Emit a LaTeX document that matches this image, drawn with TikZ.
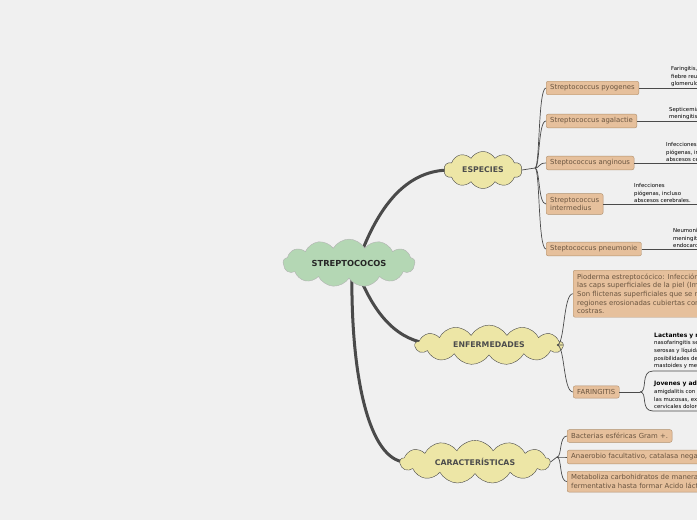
\documentclass[tikz,border=0pt]{standalone}
\usepackage{fontspec}
\setmainfont{DejaVu Sans}
\usetikzlibrary{shapes.symbols}
\definecolor{bg}{HTML}{F0F0F0}
\definecolor{boxf}{HTML}{E6C09C}
\definecolor{boxd}{HTML}{B0906E}
\definecolor{boxt}{HTML}{6A5540}
\definecolor{cloudy}{HTML}{EDE6A6}
\definecolor{lin}{HTML}{4A4A4A}
\tikzset{
 x=1pt,y=-1pt,
 bx/.style={draw=boxd,fill=boxf,rounded corners=2pt,font=\fontsize{6.9}{8.6}\selectfont,text=boxt,inner xsep=4pt,inner ysep=3.5pt,anchor=west,align=left},
 note/.style={font=\fontsize{5.4}{7.6}\selectfont,text=black,anchor=south west,align=left,inner sep=1pt},
 cl/.style={cloud,cloud puffs=13,cloud puff arc=120,draw=lin,fill=cloudy,font=\bfseries\fontsize{7.8}{9}\selectfont,text=black!70,inner sep=0pt},
 br/.style={draw=lin,line width=0.7pt},
 big/.style={draw=lin,line width=3pt},
}
\begin{document}
\begin{tikzpicture}
\clip (0,0) rectangle (697,520);
\fill[bg] (0,0) rectangle (697,520);
% connectors from root
\draw[big] (358,262) .. controls (380,200) and (410,170) .. (450,170);
\draw[big] (355,265) .. controls (375,320) and (400,340) .. (430,344);
\draw[big] (352,265) .. controls (350,380) and (370,460) .. (405,462);
% clouds
\node[cloud,cloud puffs=13,cloud puff arc=120,aspect=3.1,draw=gray!60,fill=green!30!gray!45,minimum width=132pt,inner sep=0pt,font=\bfseries\fontsize{8.3}{10}\selectfont,text=black!85] (root) at (349,263) {STREPTOCOCOS};
\node[cl,cloud puffs=10,aspect=2.1,minimum width=78pt] (esp) at (483,170) {ESPECIES};
\node[cl,aspect=3.8,minimum width=148pt] (enf) at (489,345) {ENFERMEDADES};
\node[cl,aspect=4,minimum width=150pt] (car) at (475,462) {CARACTERÍSTICAS};
% especies
\coordinate (ej) at (535,168);
\node[bx] (s1) at (546,88) {Streptococcus pyogenes};
\node[bx] (s2) at (546,121) {Streptococcus agalactie};
\node[bx] (s3) at (546,163) {Steptococcus anginous};
\node[bx] (s4) at (546,204) {Streptococcus\\intermedius};
\node[bx] (s5) at (546,249) {Steptococcus pneumonie};
\coordinate (redge) at (697,0);
\draw[br] (esp.east) -- (ej);
\foreach \s in {s1,s2,s3,s4,s5}{\draw[br] (ej) .. controls +(5,0) and +(-8,0) .. (\s.west);}
\foreach \s/\x/\t in {s1/670/{Faringitis, escarlatina,\\fiebre reumática,\\glomerulonefritis.},s2/668/{Septicemia,\\meningitis.},s3/665/{Infecciones\\piógenas, incluso\\abscesos cerebrales.},s4/633/{Infecciones\\piógenas, incluso\\abscesos cerebrales.},s5/672/{Neumonía,\\meningitis,\\endocarditis.}}{
 \coordinate (nx) at (\x,0);
 \draw[br] (\s.east) -- (redge |- \s.east);
 \node[note] at (nx |- \s.east) {\t};}
% enfermedades
\coordinate (fj) at (557,345);
\draw[br] (enf.east) -- (fj);
\node[bx,anchor=north west] (p1) at (573,270) {Pioderma estreptocócico: Infección de\\las caps superficiales de la piel (Impétigo).\\Son flictenas superficiales que se rompen en\\regiones erosionadas cubiertas con\\costras.};
\node[bx] (far) at (573,392) {FARINGITIS};
\draw[br] (fj) .. controls +(8,0) and +(-10,0) .. (p1.west);
\draw[br] (fj) .. controls +(8,0) and +(-10,0) .. (far.west);
\coordinate (fk) at (640,392);
\draw[br] (far.east) -- (fk);
\node[note,anchor=south west] (la) at (653,370) {{\bfseries\fontsize{6}{7}\selectfont Lactantes y niños:}\\nasofaringitis serosas, secreciones\\serosas y líquidas, con\\posibilidades de infección en oídos,\\mastoides y meninges.};
\node[note,anchor=south west] (jo) at (653,410) {{\bfseries\fontsize{6}{7}\selectfont Jovenes y adultos:}\\amigdalitis con enrojecimiento de\\las mucosas, exudado y adenopatías\\cervicales dolorosas.};
\draw[br] (fk) .. controls (648,392) and (640,371) .. (653,371) -- (697,371);
\draw[br] (fk) .. controls (648,392) and (640,411) .. (653,411) -- (697,411);
% caracteristicas
\coordinate (cj) at (557,457);
\draw[br] (car.east) -- (cj);
\node[bx] (c1) at (567,436) {Bacterias esféricas Gram +.};
\node[bx] (c2) at (567,457) {Anaerobio facultativo, catalasa negativo.};
\node[bx,anchor=north west] (c3) at (567,471) {Metaboliza carbohidratos de manera\\fermentativa hasta formar Acido láctico.};
\foreach \s in {c1,c2,c3}{\draw[br] (cj) .. controls +(5,0) and +(-8,0) .. (\s.west);}
\end{tikzpicture}
\end{document}
